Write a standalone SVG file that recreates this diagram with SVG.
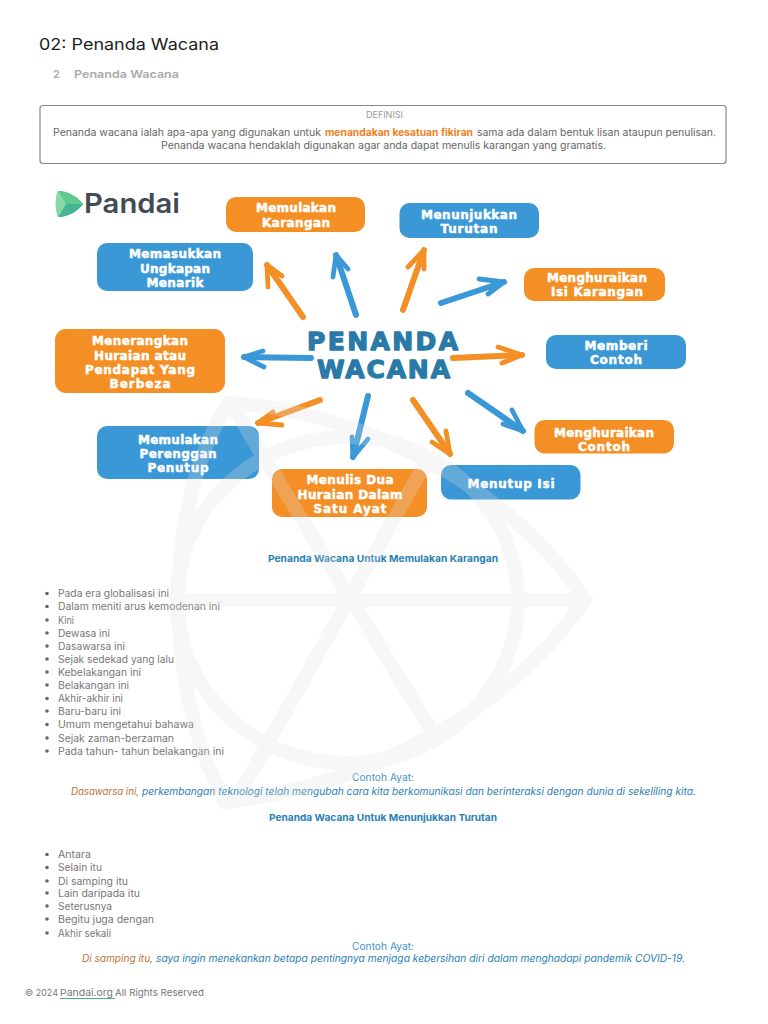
<svg xmlns="http://www.w3.org/2000/svg" width="768" height="1024" viewBox="0 0 768 1024">
<style>
text{font-family:"Inter","Liberation Sans",sans-serif}
.nl{font-family:"DejaVu Sans","Liberation Sans",sans-serif;font-weight:700;font-size:12px;fill:#fff;stroke:#fff;stroke-width:.5;stroke-linejoin:round;text-anchor:middle}
.o{fill:#f48f26}.b{fill:#3a98d6}
.li{font-size:9.8px;fill:#777}
.dot{fill:#666}
.h{font-size:9.5px;font-weight:700;fill:#2a80b4}
.ca{font-size:10px;fill:#4a94c4}
.s{font-size:9.8px;font-style:italic;fill:#2a80b4}
.so{font-size:9.8px;font-style:italic;fill:#b9743a}
.d{font-size:9.8px;fill:#666}
.ao{fill:none;stroke:#f48f26;stroke-linecap:round;stroke-linejoin:round}
.ab{fill:none;stroke:#3a98d6;stroke-linecap:round;stroke-linejoin:round}
.sh{stroke-width:6}.hd{stroke-width:4.800}
.tt{font-family:"DejaVu Sans","Liberation Sans",sans-serif;font-weight:700;font-size:25px;fill:#2a7aa8;stroke:#2a7aa8;stroke-width:1.300;stroke-linejoin:round}
.f{font-size:9.5px;fill:#777}
</style>
<rect width="768" height="1024" fill="#fff"/>
<g id="header">
<text x="39" y="50" font-size="16.5" fill="#222" textLength="180" lengthAdjust="spacingAndGlyphs">02: Penanda Wacana</text>
<text x="53" y="78" font-size="11" font-weight="600" fill="#aaa">2</text>
<text x="74" y="78" font-size="11" font-weight="600" fill="#aaa" textLength="105" lengthAdjust="spacingAndGlyphs">Penanda Wacana</text>
</g>
<g id="definisi">
<rect x="40" y="105.500" width="686" height="58" rx="3" fill="#fff" stroke="#888" stroke-width="1.200"/>
<text x="366" y="118" font-size="9.500" fill="#999" textLength="37" lengthAdjust="spacingAndGlyphs">DEFINISI</text>
<text class="d" x="53" y="136" textLength="268" lengthAdjust="spacingAndGlyphs">Penanda wacana ialah apa-apa yang digunakan untuk</text>
<text class="d" x="325" y="136" font-weight="700" style="fill:#f07f1f" textLength="148" lengthAdjust="spacingAndGlyphs">menandakan kesatuan fikiran</text>
<text class="d" x="477" y="136" textLength="239" lengthAdjust="spacingAndGlyphs">sama ada dalam bentuk lisan ataupun penulisan.</text>
<text class="d" x="161" y="149" textLength="445" lengthAdjust="spacingAndGlyphs">Penanda wacana hendaklah digunakan agar anda dapat menulis karangan yang gramatis.</text>
</g>
<g id="logo">
<path d="M58 191C68 191 78 197 83 204C78 211 68 217 58 217C55 208 55 199 58 191Z" fill="#4fc093"/>
<path d="M58 191C68 191 78 197 83 204L66 204Z" fill="#5fcb93"/>
<path d="M58 217C68 217 78 211 83 204L66 204Z" fill="#46b596"/>
<path d="M58 191C55 199 55 208 58 217L66 204Z" fill="#86dca6"/>
<text x="84" y="212.500" font-size="27" font-weight="600" fill="#434a54" textLength="96" lengthAdjust="spacingAndGlyphs">Pandai</text>
</g>
<g id="connectors">
<g class="ao"><path class="sh" d="M303 317L267 265"/><path class="hd" d="M282 276L267 265L268 287"/></g>
<g class="ab"><path class="sh" d="M356 315L336 255"/><path class="hd" d="M348 269L336 255L333 277"/></g>
<g class="ab"><path class="sh" d="M311 358L244 357"/><path class="hd" d="M263 351L244 357L264 367"/></g>
<g class="ao"><path class="sh" d="M403 310L424 250"/><path class="hd" d="M408 267L424 250L424 269"/></g>
<g class="ab"><path class="sh" d="M441 303L504 282"/><path class="hd" d="M479 279L504 282L488 294"/></g>
<g class="ao"><path class="sh" d="M453 358L522 355"/><path class="hd" d="M498 347L522 355L502 363"/></g>
<g class="ao"><path class="sh" d="M320 400L258 423"/><path class="hd" d="M273 412L258 423L282 425"/></g>
<g class="ab"><path class="sh" d="M368 396L353 457"/><path class="hd" d="M352 437L353 457L368 439"/></g>
<g class="ao"><path class="sh" d="M413 400L450 454"/><path class="hd" d="M432 442L450 454L446 431"/></g>
<g class="ab"><path class="sh" d="M468 393L523 431"/><path class="hd" d="M503 424L523 431L512 410"/></g>
</g>
<g id="center">
<text class="tt" x="307" y="349.500" textLength="151">PENANDA</text>
<text class="tt" x="317" y="378" textLength="133">WACANA</text>
</g>
<g id="n-memulakan-karangan"><rect class="o" x="226" y="197" width="139" height="35" rx="10"/>
<text class="nl" x="296" y="212" textLength="80">Memulakan</text><text class="nl" x="296" y="226.500" textLength="68">Karangan</text></g>
<g id="n-memasukkan"><rect class="b" x="97" y="243" width="156" height="48" rx="10"/>
<text class="nl" x="175" y="257.500" textLength="92">Memasukkan</text><text class="nl" x="175" y="272.500" textLength="70">Ungkapan</text><text class="nl" x="175" y="287" textLength="57">Menarik</text></g>
<g id="n-menerangkan"><rect class="o" x="55" y="329" width="170" height="64" rx="11"/>
<text class="nl" x="140" y="345" textLength="96">Menerangkan</text><text class="nl" x="140" y="359.500" textLength="92">Huraian atau</text><text class="nl" x="140" y="374" textLength="110">Pendapat Yang</text><text class="nl" x="140" y="388" textLength="61">Berbeza</text></g>
<g id="n-menunjukkan"><rect class="b" x="399.500" y="203" width="139.500" height="35" rx="10"/>
<text class="nl" x="469" y="219" textLength="96">Menunjukkan</text><text class="nl" x="469" y="233" textLength="57">Turutan</text></g>
<g id="n-isi-karangan"><rect class="o" x="524" y="268" width="141" height="33" rx="10"/>
<text class="nl" x="597" y="281.500" textLength="100">Menghuraikan</text><text class="nl" x="597" y="296" textLength="92">Isi Karangan</text></g>
<g id="n-memberi"><rect class="b" x="546" y="335" width="140" height="34" rx="10"/>
<text class="nl" x="616" y="350" textLength="63">Memberi</text><text class="nl" x="616" y="364" textLength="52">Contoh</text></g>
<g id="n-penutup"><rect class="b" x="97" y="426" width="162" height="53" rx="10"/>
<text class="nl" x="178" y="444" textLength="80">Memulakan</text><text class="nl" x="178" y="458" textLength="77">Perenggan</text><text class="nl" x="178" y="472" textLength="61">Penutup</text></g>
<g id="n-menulis"><rect class="o" x="272" y="469" width="155" height="48" rx="10"/>
<text class="nl" x="350" y="484" textLength="87">Menulis Dua</text><text class="nl" x="350" y="499" textLength="105">Huraian Dalam</text><text class="nl" x="350" y="513" textLength="73">Satu Ayat</text></g>
<g id="n-menutup"><rect class="b" x="441" y="465" width="139.500" height="34.500" rx="10"/>
<text class="nl" x="511" y="487.500" textLength="87">Menutup Isi</text></g>
<g id="n-contoh"><rect class="o" x="534.500" y="420" width="139.500" height="33.500" rx="10"/>
<text class="nl" x="604" y="436.500" textLength="100">Menghuraikan</text><text class="nl" x="604" y="450.500" textLength="52">Contoh</text></g>
<g id="body">
<text class="h" x="268" y="562" textLength="230" lengthAdjust="spacingAndGlyphs">Penanda Wacana Untuk Memulakan Karangan</text>
<g class="dot"><circle cx="47" cy="593.500" r="1.800"/><circle cx="47" cy="606.500" r="1.800"/><circle cx="47" cy="620" r="1.800"/><circle cx="47" cy="633" r="1.800"/><circle cx="47" cy="646" r="1.800"/><circle cx="47" cy="659" r="1.800"/><circle cx="47" cy="672" r="1.800"/><circle cx="47" cy="685" r="1.800"/><circle cx="47" cy="698.500" r="1.800"/><circle cx="47" cy="711" r="1.800"/><circle cx="47" cy="724.500" r="1.800"/><circle cx="47" cy="738" r="1.800"/><circle cx="47" cy="751" r="1.800"/></g>
<text class="li" x="58" y="597" textLength="111" lengthAdjust="spacingAndGlyphs">Pada era globalisasi ini</text>
<text class="li" x="58" y="610" textLength="162" lengthAdjust="spacingAndGlyphs">Dalam meniti arus kemodenan ini</text>
<text class="li" x="58" y="623.500" textLength="16" lengthAdjust="spacingAndGlyphs">Kini</text>
<text class="li" x="58" y="636.500" textLength="52" lengthAdjust="spacingAndGlyphs">Dewasa ini</text>
<text class="li" x="58" y="650" textLength="67" lengthAdjust="spacingAndGlyphs">Dasawarsa ini</text>
<text class="li" x="58" y="662.500" textLength="116" lengthAdjust="spacingAndGlyphs">Sejak sedekad yang lalu</text>
<text class="li" x="58" y="675.500" textLength="83" lengthAdjust="spacingAndGlyphs">Kebelakangan ini</text>
<text class="li" x="58" y="688.500" textLength="71" lengthAdjust="spacingAndGlyphs">Belakangan ini</text>
<text class="li" x="58" y="702" textLength="65" lengthAdjust="spacingAndGlyphs">Akhir-akhir ini</text>
<text class="li" x="58" y="714.500" textLength="63" lengthAdjust="spacingAndGlyphs">Baru-baru ini</text>
<text class="li" x="58" y="728" textLength="136" lengthAdjust="spacingAndGlyphs">Umum mengetahui bahawa</text>
<text class="li" x="58" y="741.500" textLength="116" lengthAdjust="spacingAndGlyphs">Sejak zaman-berzaman</text>
<text class="li" x="58" y="754.500" textLength="166" lengthAdjust="spacingAndGlyphs">Pada tahun- tahun belakangan ini</text>
<text class="ca" x="352" y="781" textLength="62" lengthAdjust="spacingAndGlyphs">Contoh Ayat:</text>
<text class="so" x="71" y="795" textLength="68" lengthAdjust="spacingAndGlyphs">Dasawarsa ini,</text>
<text class="s" x="142" y="795" textLength="554" lengthAdjust="spacingAndGlyphs">perkembangan teknologi telah mengubah cara kita berkomunikasi dan berinteraksi dengan dunia di sekeliling kita.</text>
<text class="h" x="269" y="821" textLength="228" lengthAdjust="spacingAndGlyphs">Penanda Wacana Untuk Menunjukkan Turutan</text>
<g class="dot"><circle cx="47" cy="854.500" r="1.800"/><circle cx="47" cy="867.500" r="1.800"/><circle cx="47" cy="881" r="1.800"/><circle cx="47" cy="893" r="1.800"/><circle cx="47" cy="906" r="1.800"/><circle cx="47" cy="919" r="1.800"/><circle cx="47" cy="933" r="1.800"/></g>
<text class="li" x="58" y="858" textLength="33" lengthAdjust="spacingAndGlyphs">Antara</text>
<text class="li" x="58" y="871" textLength="44" lengthAdjust="spacingAndGlyphs">Selain itu</text>
<text class="li" x="58" y="884.500" textLength="70" lengthAdjust="spacingAndGlyphs">Di samping itu</text>
<text class="li" x="58" y="897" textLength="82" lengthAdjust="spacingAndGlyphs">Lain daripada itu</text>
<text class="li" x="58" y="910" textLength="54" lengthAdjust="spacingAndGlyphs">Seterusnya</text>
<text class="li" x="58" y="922.500" textLength="96" lengthAdjust="spacingAndGlyphs">Begitu juga dengan</text>
<text class="li" x="58" y="936.500" textLength="53" lengthAdjust="spacingAndGlyphs">Akhir sekali</text>
<text class="ca" x="352" y="949.500" textLength="62" lengthAdjust="spacingAndGlyphs">Contoh Ayat:</text>
<text class="so" x="82" y="962" textLength="71" lengthAdjust="spacingAndGlyphs">Di samping itu,</text>
<text class="s" x="156" y="962" textLength="529" lengthAdjust="spacingAndGlyphs">saya ingin menekankan betapa pentingnya menjaga kebersihan diri dalam menghadapi pandemik COVID-19.</text>
</g>
<g id="footer">
<text class="f" x="25" y="996" textLength="33" lengthAdjust="spacingAndGlyphs">© 2024</text>
<text class="f" x="60" y="996" textLength="53" lengthAdjust="spacingAndGlyphs">Pandai.org</text>
<path d="M60 998.500H115" stroke="#3fb87f" stroke-width="1"/>
<text class="f" x="115" y="996" textLength="89" lengthAdjust="spacingAndGlyphs">All Rights Reserved</text>
</g>
<g id="watermark" fill="none" stroke="#e0e0e0" stroke-width="14" opacity=".25">
<path d="M229 403C350 410 500 475 585 599C515 705 375 785 225 802C160 680 165 500 229 403Z"/>
<ellipse cx="347.500" cy="600" rx="170.500" ry="163"/>
<path d="M177 600H583M233 407L433 733M427 460L240 793"/>
</g>
</svg>
